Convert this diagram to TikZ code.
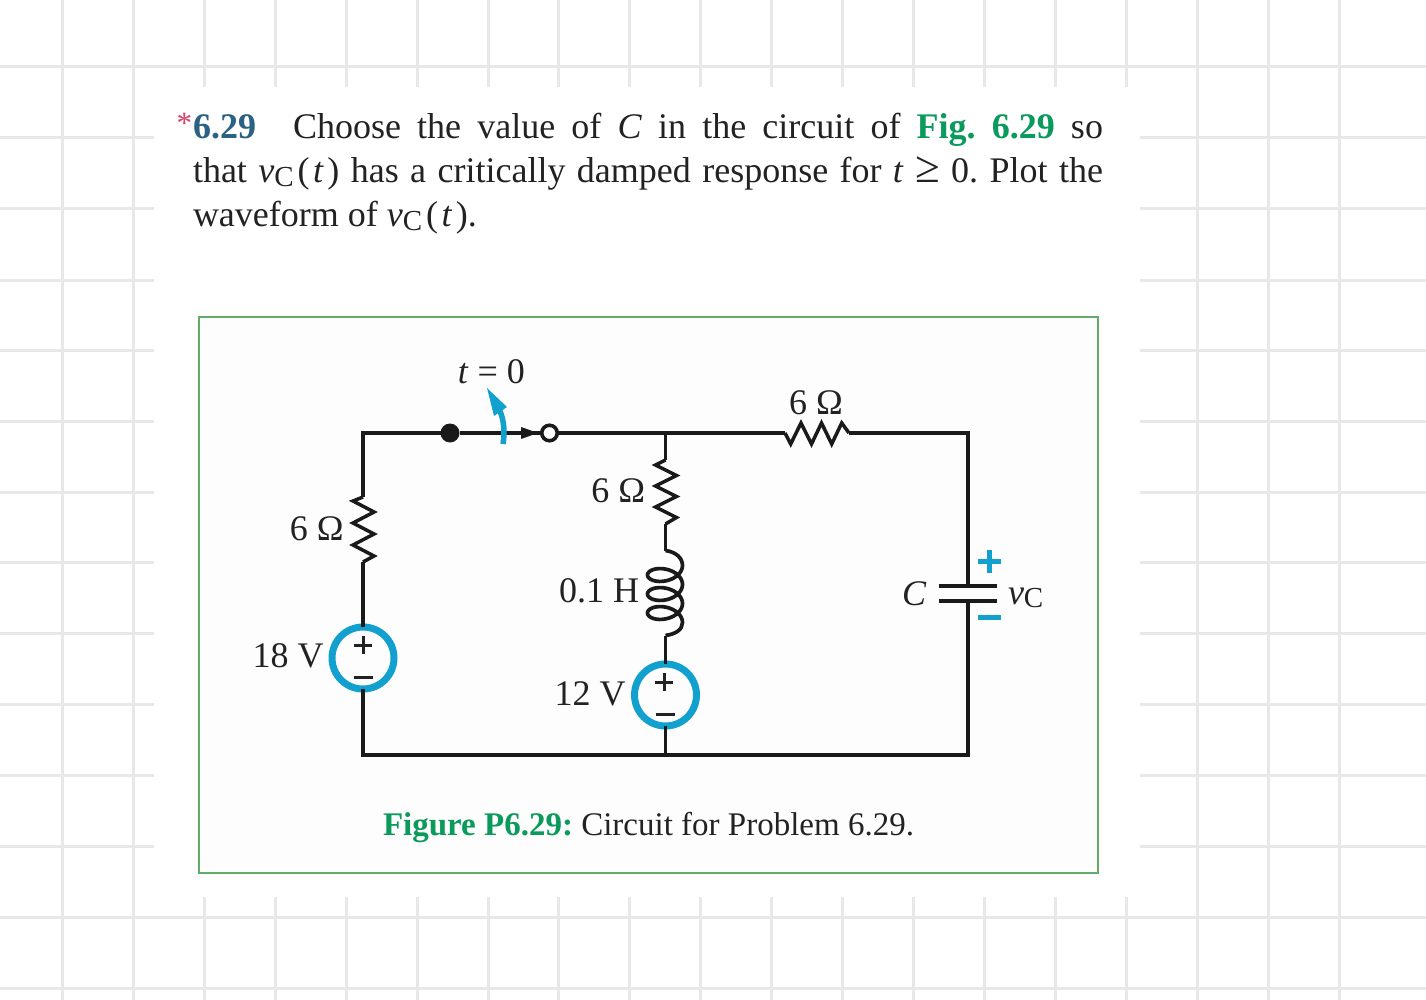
\documentclass[tikz,border=0pt]{standalone}
\usepackage{fontspec}
\setmainfont{Liberation Serif}
\frenchspacing
\definecolor{gridc}{HTML}{E8E8E8}
\definecolor{boxg}{HTML}{62AB68}
\definecolor{boxf}{HTML}{FEFDFE}
\definecolor{wirec}{HTML}{1A1A1A}
\definecolor{cyanc}{HTML}{12A0CF}
\definecolor{greenc}{HTML}{0A9A5C}
\definecolor{bluec}{HTML}{2B6283}
\definecolor{pinkc}{HTML}{D8406A}
\definecolor{textc}{HTML}{222222}
\newcommand{\vCsym}{\textit{v}\raisebox{-0.22ex}{\fontsize{29}{30}\selectfont C}}
\newcommand{\ofT}{\kern4pt(\kern3.5pt\textit{t}\kern3.5pt)}
\tikzset{
  gridline/.style={draw=gridc,line width=3pt},
  wire/.style={draw=wirec,line width=3.6pt,line join=miter},
  zig/.style={draw=wirec,line width=3.5pt,line join=miter},
  srcnode/.style={circle,draw=cyanc,line width=7pt,fill=boxf,minimum size=62pt,inner sep=0pt,outer sep=0pt},
  txt/.style={inner sep=0pt,outer sep=0pt,text=textc,font=\fontsize{36}{44}\selectfont},
  captxt/.style={inner sep=0pt,outer sep=0pt,text=textc,font=\fontsize{33}{40}\selectfont},
  pol/.style={draw=textc,line width=3pt},
  polc/.style={draw=cyanc,line width=5pt},
}
\begin{document}
\begin{tikzpicture}[x=1pt,y=-1pt]
\useasboundingbox (0,0) rectangle (1426,1000);
\fill[white] (0,0) rectangle (1426,1000);
% grid
\foreach \gx in {62,133,204,275,346,417,488,558,629,700,771,842,913,984,1055,1126,1197,1268,1339}
  \draw[gridline] (\gx,0) -- (\gx,1000);
\foreach \gy in {67,138,209,280,350,421,492,562,633,704,775,846,917,988}
  \draw[gridline] (0,\gy) -- (1426,\gy);
\fill[white] (154,87) rectangle (1140,897);
% problem text
\node[txt,anchor=base east,text=pinkc,font=\fontsize{31}{31}\selectfont] (star) at (192,134) {*};
\node[txt,anchor=base west,text=bluec,font=\fontsize{36}{44}\selectfont\bfseries] (num) at (193,139) {6.29};
\node[txt,anchor=base west] (l1) at (293,139) {\makebox[810pt][s]{Choose the value of \textit{C} in the circuit of {\bfseries\color{greenc}Fig. 6.29} so}};
\node[txt,anchor=base west] (l2) at (193,183) {\makebox[910pt][s]{that \vCsym\ofT{} has a critically damped response for \textit{t} {\fontsize{45}{45}\selectfont ≥} 0. Plot the}};
\node[txt,anchor=base west] (l3) at (193,227) {waveform of \vCsym\ofT.};
% figure box
\node[draw=boxg,line width=2pt,fill=boxf,minimum width=899pt,minimum height=556pt,inner sep=0pt,outer sep=0pt,anchor=north west] (figbox) at (199,317) {};
% junctions
\coordinate (tl) at (363,433);
\coordinate (tm) at (665.5,433);
\coordinate (tr) at (968,433);
\coordinate (bl) at (363,755);
\coordinate (bm) at (665.5,755);
\coordinate (br) at (968,755);
\coordinate (r1a) at (363,497);
\coordinate (r1b) at (363,562);
\coordinate (r2a) at (665.5,460);
\coordinate (r2b) at (665.5,524);
\coordinate (r3a) at (785,433);
\coordinate (r3b) at (849,433);
\coordinate (l1a) at (665.5,550.5);
\coordinate (l1b) at (665.5,635.5);
\coordinate (c1a) at (968,586);
\coordinate (c1b) at (968,601);
\node[srcnode] (v1) at (363,658) {};
\node[srcnode] (v2) at (665.5,695) {};
\node[circle,fill=wirec,minimum size=19pt,inner sep=0pt,outer sep=0pt] (swa) at (450,433) {};
\node[circle,draw=wirec,line width=3.6pt,fill=white,minimum size=15.5pt,inner sep=0pt,outer sep=0pt] (swb) at (549.5,433) {};
% wires
\draw[wire] (r1a) -- (tl) -- (swa);
\draw[wire] (swa) -- (swb);
\draw[wire] (swb) -- (tm) -- (r3a);
\draw[wire] (tm) -- (r2a);
\draw[wire] (r3b) -- (tr) -- (c1a);
\draw[wire] (c1b) -- (br) -- (bl) -- (v1.south);
\draw[wire] (r1b) -- (v1.north);
\draw[wire] (r2b) -- (l1a);
\draw[wire] (l1b) -- (v2.north);
\draw[wire] (v2.south) -- (bm);
% resistors
\draw[zig] (r1a) -- ++(-10,4) -- ++(21,11) -- ++(-21,11) -- ++(21,11) -- ++(-21,11) -- ++(21,11) -- (r1b);
\draw[zig] (r2a) -- ++(-10,5) -- ++(21,10.5) -- ++(-21,10.5) -- ++(21,10.5) -- ++(-21,10.5) -- ++(21,10.5) -- (r2b);
\draw[zig] (r3a) -- (790.7,444) -- (801,423) -- (811.5,444) -- (821.5,423) -- (831.7,444) -- (841.7,423) -- (r3b);
% inductor
\draw[zig,line width=3.7pt,line join=round] (l1a) .. controls (676,552) and (682.5,558) .. (682.5,565.5)
  -- plot[domain=0:1080,samples=109,variable=\a] ({665+17.5*cos(\a)},{565.5+\a/360*19+10.75*sin(\a)})
  -- (682.5,622.5) .. controls (682.5,629.5) and (676,634) .. (l1b);
% capacitor
\draw[wire] (939,586) -- (997,586);
\draw[wire] (939,601) -- (997,601);
% polarity
\coordinate (p1) at (363,645);
\coordinate (m1) at (363,677);
\coordinate (p2) at (664,682);
\coordinate (m2) at (665,714);
\draw[pol] ([xshift=-9pt]p1) -- ([xshift=9pt]p1) ([yshift=-9pt]p1) -- ([yshift=9pt]p1);
\draw[pol] ([xshift=-9.5pt]m1) -- ([xshift=9.5pt]m1);
\draw[pol] ([xshift=-9pt]p2) -- ([xshift=9pt]p2) ([yshift=-9pt]p2) -- ([yshift=9pt]p2);
\draw[pol] ([xshift=-9.5pt]m2) -- ([xshift=9.5pt]m2);
\coordinate (cp) at (989,561);
\coordinate (cm) at (989,617);
\draw[polc] ([xshift=-11.5pt]cp) -- ([xshift=11.5pt]cp) ([yshift=-11.5pt]cp) -- ([yshift=11.5pt]cp);
\draw[polc] ([xshift=-11.5pt]cm) -- ([xshift=11.5pt]cm);
% switch arrows
\fill[wirec] (538,433) -- (521,427) -- (521,439) -- cycle;
\coordinate (sa) at (503,444);
\coordinate (sb) at (500,411);
\draw[draw=cyanc,line width=5.5pt] (sa) .. controls (505,432) and (504,421) .. (sb);
\fill[cyanc] (487,388) -- (507,407) -- (494,416) -- cycle;
% labels
\node[txt,anchor=base] (lt) at (491.5,383) {\textit{t} = 0};
\node[txt,anchor=base] (lr3) at (816,414) {6 Ω};
\node[txt,anchor=base east] (lr2) at (645,502) {6 Ω};
\node[txt,anchor=base east] (lr1) at (343.5,540) {6 Ω};
\node[txt,anchor=base east] (ll) at (639,602) {0.1 H};
\node[txt,anchor=base east] (lv1) at (323.5,667) {18 V};
\node[txt,anchor=base east] (lv2) at (625.5,705) {12 V};
\node[txt,anchor=base west] (lc) at (902,605) {\textit{C}};
\node[txt,anchor=base west] (lvc) at (1008,604) {\vCsym};
\node[captxt,anchor=base west] (caption) at (383,835) {{\bfseries\color{greenc}Figure P6.29:} Circuit for Problem 6.29.};
\end{tikzpicture}
\end{document}
